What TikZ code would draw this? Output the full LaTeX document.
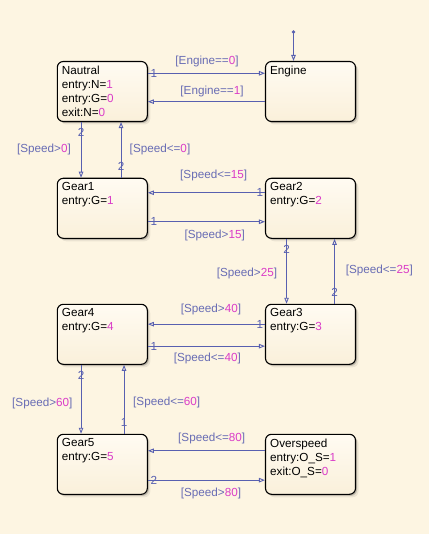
\documentclass[tikz,border=0pt]{standalone}
\usepackage{fontspec}
\setmainfont{Liberation Sans}
\usetikzlibrary{arrows.meta,shadows}
\definecolor{bg}{RGB}{253,245,226}
\definecolor{boxtop}{RGB}{255,251,242}
\definecolor{boxbot}{RGB}{250,240,218}
\definecolor{trc}{RGB}{88,96,176}
\definecolor{lbc}{RGB}{104,108,180}
\definecolor{mag}{RGB}{218,60,200}
\newcommand\mg[1]{\textcolor{mag}{#1}}
\tikzset{
  stbox/.style={draw=black, line width=1.1pt, rounded corners=6pt,
    minimum width=90pt, minimum height=60pt, inner sep=0pt,
    top color=boxtop, bottom color=boxbot,
    drop shadow={shadow xshift=1.5pt, shadow yshift=-1.5pt, opacity=.18, fill=black},
    drop shadow={shadow xshift=3pt, shadow yshift=-3pt, opacity=.07, fill=black}},
  sttext/.style={anchor=north west, align=left, inner sep=0pt,
    font=\fontsize{11.7}{14}\selectfont, text=black},
  tr/.style={draw=trc, line width=0.9pt, -{Triangle[open, length=6pt, width=4.5pt]}},
  lbl/.style={inner sep=0pt, font=\fontsize{11.7}{14}\selectfont, text=lbc},
  num/.style={inner sep=0pt, font=\fontsize{11.7}{14}\selectfont, text=trc}
}
\begin{document}
\begin{tikzpicture}[x=1pt,y=-1pt]
\fill[bg] (0,0) rectangle (429,534);
\useasboundingbox (0,0) rectangle (429,534);
% states
\node[stbox] (naut) at (102.3,91.5) {};
\node[stbox] (eng) at (310.5,91.5) {};
\node[stbox] (g1) at (102.3,208.3) {};
\node[stbox] (g2) at (310.5,208.3) {};
\node[stbox] (g4) at (102.3,334.3) {};
\node[stbox] (g3) at (310.5,334.3) {};
\node[stbox] (g5) at (102.3,464.3) {};
\node[stbox] (ov) at (310.5,464.3) {};
% texts
\node[sttext] (tnaut) at ([xshift=5pt,yshift=-4.6pt]naut.north west) {Nautral\\entry:N=\mg{1}\\entry:G=\mg{0}\\exit:N=\mg{0}};
\node[sttext] (teng) at ([xshift=5pt,yshift=-4.6pt]eng.north west) {Engine};
\node[sttext] (tg1) at ([xshift=5pt,yshift=-4.6pt]g1.north west) {Gear1\\entry:G=\mg{1}};
\node[sttext] (tg2) at ([xshift=5pt,yshift=-4.6pt]g2.north west) {Gear2\\entry:G=\mg{2}};
\node[sttext] (tg3) at ([xshift=5pt,yshift=-4.6pt]g3.north west) {Gear3\\entry:G=\mg{3}};
\node[sttext] (tg4) at ([xshift=5pt,yshift=-4.6pt]g4.north west) {Gear4\\entry:G=\mg{4}};
\node[sttext] (tg5) at ([xshift=5pt,yshift=-4.6pt]g5.north west) {Gear5\\entry:G=\mg{5}};
\node[sttext] (tov) at ([xshift=5pt,yshift=-4.6pt]ov.north west) {Overspeed\\entry:O\_S=\mg{1}\\exit:O\_S=\mg{0}};
% default transition
\fill[trc] (293.5,32) circle (1.9pt);
\coordinate (dflt) at (293.5,32);
\draw[tr] (dflt) -- (dflt |- eng.north);
% Nautral <-> Engine
\draw[tr] ([yshift=-12.3pt]naut.north east) -- ([yshift=-12.3pt]eng.north west);
\node[num] (n1) at ([xshift=6pt,yshift=-12.3pt]naut.north east) {1};
\node[lbl] (l1) at (207,61.3) {[Engine==\mg{0}]};
\draw[tr] ([yshift=-40.7pt]eng.north west) -- ([yshift=-40.7pt]naut.north east);
\node[lbl] (l2) at (212,91.3) {[Engine==\mg{1}]};
% Nautral <-> Gear1
\draw[tr] ([xshift=24.3pt]naut.south west) -- ([xshift=24.3pt]g1.north west);
\node[num] (n3) at ([xshift=24.3pt,yshift=-10.7pt]naut.south west) {2};
\node[lbl] (l3) at (44,149.7) {[Speed>\mg{0}]};
\draw[tr] ([xshift=64.3pt]g1.north west) -- ([xshift=64.3pt]naut.south west);
\node[num] (n4) at ([xshift=64.3pt,yshift=11pt]g1.north west) {2};
\node[lbl] (l4) at (160,149) {[Speed<=\mg{0}]};
% Gear1 <-> Gear2
\draw[tr] ([yshift=-15pt]g2.north west) -- ([yshift=-15pt]g1.north east);
\node[num] (n5) at ([xshift=-5pt,yshift=-15pt]g2.north west) {1};
\node[lbl] (l5) at (213.7,175) {[Speed<=\mg{15}]};
\draw[tr] ([yshift=-44pt]g1.north east) -- ([yshift=-44pt]g2.north west);
\node[num] (n6) at ([xshift=6pt,yshift=-44pt]g1.north east) {1};
\node[lbl] (l6) at (214.7,235) {[Speed>\mg{15}]};
% Gear2 <-> Gear3
\draw[tr] ([xshift=21.6pt]g2.south west) -- ([xshift=21.6pt]g3.north west);
\node[num] (n7) at ([xshift=21.6pt,yshift=-10.7pt]g2.south west) {2};
\node[lbl] (l7) at (247,273) {[Speed>\mg{25}]};
\draw[tr] ([xshift=69.6pt]g3.north west) -- ([xshift=69.6pt]g2.south west);
\node[num] (n8) at ([xshift=69.6pt,yshift=11pt]g3.north west) {2};
\node[lbl] (l8) at (379.3,270) {[Speed<=\mg{25}]};
% Gear3 <-> Gear4
\draw[tr] ([yshift=-20.4pt]g3.north west) -- ([yshift=-20.4pt]g4.north east);
\node[num] (n9) at ([xshift=-5pt,yshift=-20.4pt]g3.north west) {1};
\node[lbl] (l9) at (211,309.3) {[Speed>\mg{40}]};
\draw[tr] ([yshift=-42.4pt]g4.north east) -- ([yshift=-42.4pt]g3.north west);
\node[num] (n10) at ([xshift=6pt,yshift=-42.4pt]g4.north east) {1};
\node[lbl] (l10) at (207.3,358) {[Speed<=\mg{40}]};
% Gear4 <-> Gear5
\draw[tr] ([xshift=24.3pt]g4.south west) -- ([xshift=24.3pt]g5.north west);
\node[num] (n11) at ([xshift=24.3pt,yshift=-10.7pt]g4.south west) {2};
\node[lbl] (l11) at (42.3,403) {[Speed>\mg{60}]};
\draw[tr] ([xshift=67.3pt]g5.north west) -- ([xshift=67.3pt]g4.south west);
\node[num] (n12) at ([xshift=67.3pt,yshift=11pt]g5.north west) {1};
\node[lbl] (l12) at (166.7,402.3) {[Speed<=\mg{60}]};
% Gear5 <-> Overspeed
\draw[tr] ([yshift=-17pt]ov.north west) -- ([yshift=-17pt]g5.north east);
\node[lbl] (l13) at (211.7,438) {[Speed<=\mg{80}]};
\draw[tr] ([yshift=-46.4pt]g5.north east) -- ([yshift=-46.4pt]ov.north west);
\node[num] (n14) at ([xshift=6pt,yshift=-46.4pt]g5.north east) {2};
\node[lbl] (l14) at (211,493.3) {[Speed>\mg{80}]};
\end{tikzpicture}
\end{document}
